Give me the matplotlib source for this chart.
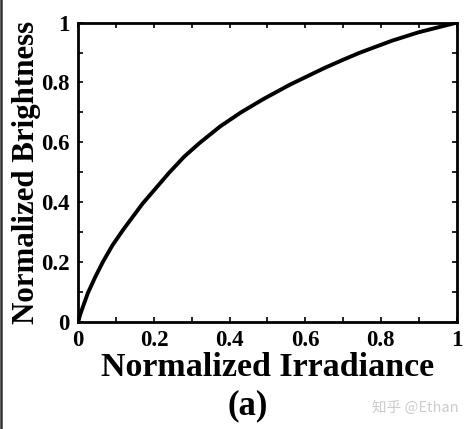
import matplotlib
matplotlib.use("Agg")
import matplotlib.pyplot as plt
from matplotlib.ticker import MultipleLocator, FuncFormatter
from matplotlib.lines import Line2D

# points
irradiance = [0.0, 0.004, 0.01, 0.025, 0.045, 0.065, 0.09, 0.12, 0.17, 0.24, 0.28,
              0.32, 0.375, 0.43, 0.49, 0.56, 0.65, 0.7, 0.745, 0.83, 0.9, 1.0]
brightness = [0.0, 0.02, 0.042, 0.095, 0.15, 0.2, 0.255, 0.31, 0.395, 0.498, 0.552,
              0.597, 0.653, 0.7, 0.745, 0.793, 0.848, 0.876, 0.9, 0.94, 0.968, 1.0]

serif = ["Liberation Serif", "DejaVu Serif"]

fig = plt.figure(figsize=(4.70, 4.29), dpi=100)
ax = fig.add_axes([0.1666, 0.2501, 0.8047, 0.697])

ax.plot(irradiance, brightness, color="black", linewidth=2.8,
        solid_capstyle="round", solid_joinstyle="round")

ax.set_xlim(0, 1)
ax.set_ylim(0, 1)
for a in (ax.xaxis, ax.yaxis):
    a.set_major_locator(MultipleLocator(0.2))
    a.set_minor_locator(MultipleLocator(0.1))
    a.set_major_formatter(FuncFormatter(lambda v, p: "%g" % round(v, 1)))

ax.tick_params(which="both", direction="in", top=True, right=True,
               length=3.5, width=1.2, pad=6)
for lbl in ax.get_xticklabels() + ax.get_yticklabels():
    lbl.set_fontfamily(serif)
    lbl.set_fontweight("bold")
    lbl.set_fontsize(16.5)
for s in ax.spines.values():
    s.set_linewidth(2)

ax.set_xlabel("Normalized Irradiance", family=serif, fontweight="bold",
              fontsize=24.5, labelpad=1)
ax.set_ylabel("Normalized Brightness", family=serif, fontweight="bold",
              fontsize=22.2, labelpad=0)

fig.text(0.528, 0.055, "(a)", family=serif, fontweight="bold", fontsize=25,
         ha="center", va="center")
fig.text(0.975, 0.05, "知乎 @Ethan", family=["Noto Sans CJK SC", "DejaVu Sans"],
         fontsize=10.5, color="#cccccc", ha="right", va="center")

# dark border on the left edge of the image
fig.add_artist(Line2D([0.003, 0.003], [0, 1], transform=fig.transFigure,
                      color="#333333", linewidth=1.8))

fig.savefig("out.png", dpi=100)
